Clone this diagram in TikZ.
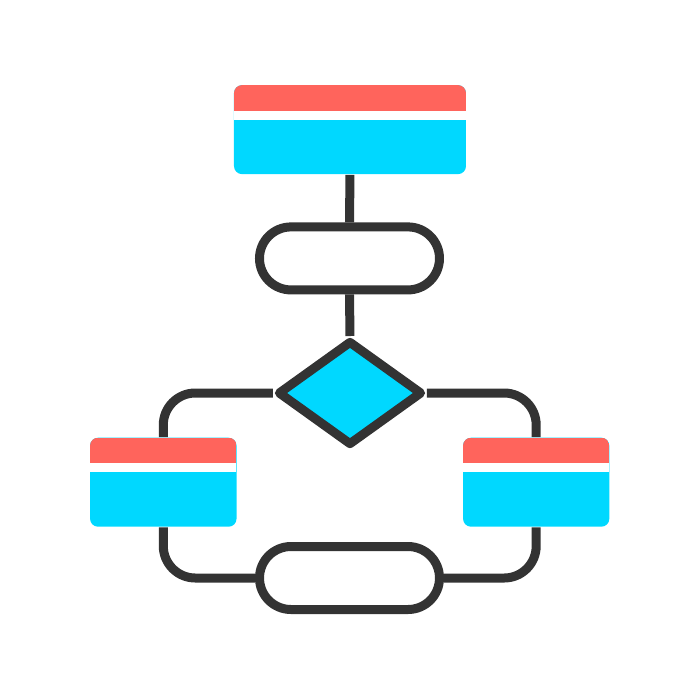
\documentclass[tikz,border=0pt]{standalone}
\usetikzlibrary{shapes.geometric,shapes.misc}
\definecolor{boxred}{RGB}{255,100,92}
\definecolor{boxcyan}{RGB}{0,216,255}
\definecolor{linegray}{RGB}{51,51,51}
\begin{document}
\begin{tikzpicture}[
    card/.style={rounded corners=0.08cm, fill=boxcyan, inner sep=0pt,
        minimum height=0.89cm, minimum width=#1,
        path picture={
            \fill[boxred, sharp corners] (path picture bounding box.north west) rectangle ([yshift=-0.254cm]path picture bounding box.north east);
            \fill[white, sharp corners] ([yshift=-0.254cm]path picture bounding box.north west) rectangle ([yshift=-0.345cm]path picture bounding box.north east);
        }},
    pill/.style={rounded rectangle, draw=linegray, line width=0.09cm, fill=white,
        minimum width=1.80cm, minimum height=0.63cm, inner sep=0pt},
    link/.style={draw=linegray, line width=0.09cm, rounded corners=0.32cm}
]
            \useasboundingbox (0,0) rectangle (7,-7);

            \node[card=2.32cm] (top) at (3.50,-1.296) {};
            \node[pill] (p1) at (3.495,-2.584) {};
            \node[diamond, draw=linegray, fill=boxcyan, line width=0.09cm, line join=round,
                minimum width=1.45cm, minimum height=1.05cm, inner sep=0pt] (dec) at (3.50,-3.93) {};
            \node[card=1.465cm] (left) at (1.633,-4.822) {};
            \node[card=1.463cm] (right) at (5.362,-4.822) {};
            \node[pill] (p2) at (3.495,-5.78) {};

            %collegamenti
            \draw[link] (top.south) -- (p1.north);
            \draw[link] (p1.south) -- (dec.north);
            \draw[link] (dec.west) -| (left.north);
            \draw[link] (dec.east) -| (right.north);
            \draw[link] (left.south) |- (p2.west);
            \draw[link] (right.south) |- (p2.east);
        \end{tikzpicture}
\end{document}
